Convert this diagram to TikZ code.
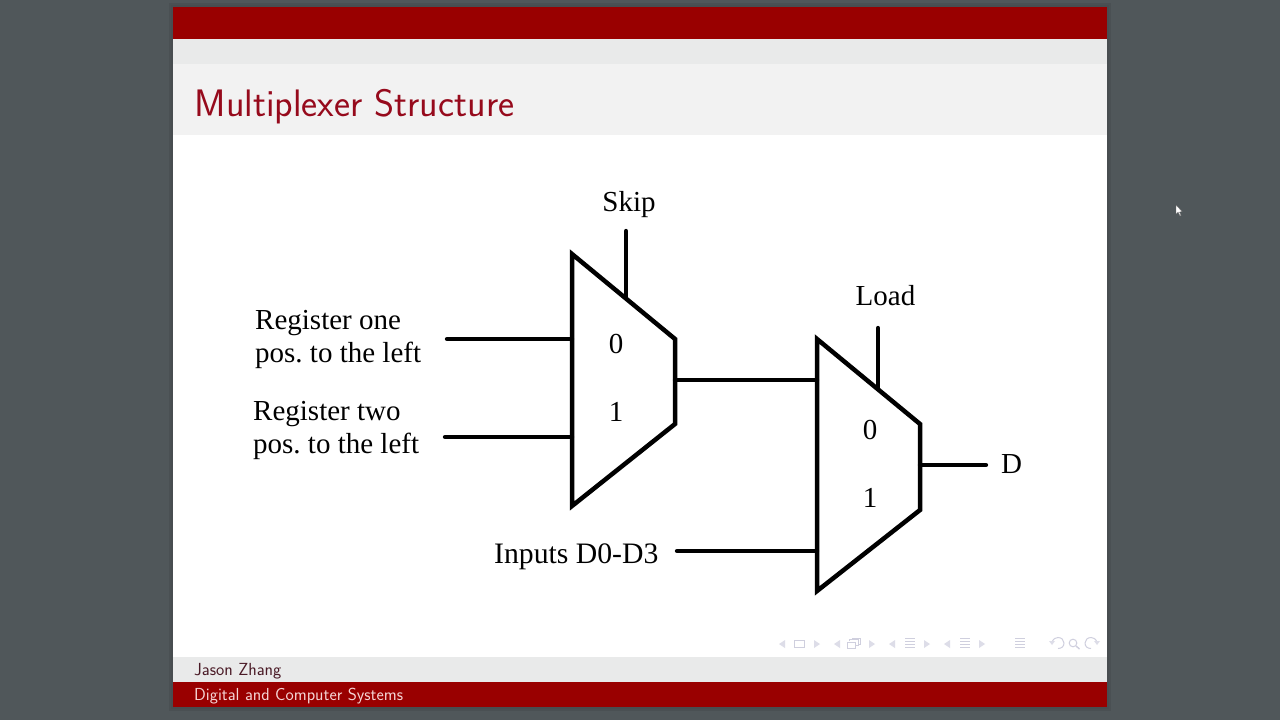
\documentclass[tikz,border=0pt]{standalone}
\usepackage{fontspec}
\newfontfamily\figfont{Liberation Serif}
\usetikzlibrary{calc}
\definecolor{bgdark}{HTML}{50575A}
\definecolor{halo}{HTML}{484D50}
\definecolor{barred}{HTML}{990000}
\definecolor{titlered}{HTML}{960A1C}
\definecolor{bandA}{HTML}{E9EAEA}
\definecolor{bandB}{HTML}{F2F2F2}
\definecolor{navc}{HTML}{CFCFDE}
\definecolor{authorc}{HTML}{4A1A26}
\definecolor{coursec}{HTML}{F5D5D5}
\tikzset{
  wire/.style={line width=4.3pt,line cap=round,black},
  muxbody/.style={line width=4.5pt,line join=miter,black},
  figlabel/.style={inner sep=0pt,font=\figfont\frenchspacing\fontsize{29}{33}\selectfont,text=black,align=left},
  muxnum/.style={inner sep=0pt,font=\figfont\fontsize{29}{33}\selectfont,text=black},
  nav/.style={line width=1pt,navc},
  navtip/.style={fill=navc!70,draw=none},
}
\begin{document}
\begin{tikzpicture}[x=1pt,y=-1pt]
\useasboundingbox (0,0) rectangle (1280,720);
\fill[bgdark] (0,0) rectangle (1280,720);
\fill[bgdark!92!black] (169,3) rectangle (1111,711);
\fill[halo] (171,5) rectangle (1109,709);
% slide
\fill[white] (173,7) rectangle (1107,707);
\fill[barred] (173,7) rectangle (1107,39);
\fill[bandA] (173,39) rectangle (1107,64);
\fill[bandB] (173,64) rectangle (1107,135);
\fill[bandA] (173,657) rectangle (1107,682);
\fill[barred] (173,682) rectangle (1107,707);
\node[anchor=base west,inner sep=0pt,text=titlered,font=\sffamily\fontsize{38.3}{44}\selectfont] (title) at (194.5,116) {Multiplexer Structure};
\node[anchor=base west,inner sep=0pt,text=authorc,font=\sffamily\fontsize{17.5}{20}\selectfont] (author) at (194,675) {Jason Zhang};
\node[anchor=base west,inner sep=0pt,text=coursec,font=\sffamily\fontsize{17.4}{20}\selectfont] (course) at (194,700) {Digital and Computer Systems};
% mux 1
\coordinate (m1a) at (572,254);
\coordinate (m1b) at (675,339);
\coordinate (m1c) at (675,424);
\coordinate (m1d) at (572,506);
\draw[muxbody] (m1a) -- (m1b) -- (m1c) -- (m1d) -- cycle;
% mux 2
\coordinate (m2a) at (817,339);
\coordinate (m2b) at (920,424);
\coordinate (m2c) at (920,510);
\coordinate (m2d) at (817,591);
\draw[muxbody] (m2a) -- (m2b) -- (m2c) -- (m2d) -- cycle;
\node[muxnum] (m1zero) at (616,344) {0};
\node[muxnum] (m1one) at (616,412) {1};
\node[muxnum] (m2zero) at (870,430) {0};
\node[muxnum] (m2one) at (870,498) {1};
% labels
\node[figlabel,anchor=base] (skip) at (629,211) {Skip};
\node[figlabel,anchor=base] (load) at (885.5,305) {Load};
\node[figlabel,anchor=base west] (reg1a) at (255,329) {Register one};
\node[figlabel,anchor=base west] (reg1b) at (255,362) {pos. to the left};
\node[figlabel,anchor=base west] (reg2a) at (253,420) {Register two};
\node[figlabel,anchor=base west] (reg2b) at (253,453) {pos. to the left};
\node[figlabel,anchor=base west,font=\figfont\fontsize{29.7}{33}\selectfont] (inp) at (494,563) {Inputs D0-D3};
\node[figlabel,anchor=base west] (dout) at (1001,473) {D};
% wire ends
\coordinate (skipT) at (626,231);
\coordinate (skipB) at (626,298);
\coordinate (loadT) at (878,328);
\coordinate (loadB) at (878,388);
\coordinate (r1L) at (447,339);
\coordinate (r1R) at (572,339);
\coordinate (r2L) at (445,437);
\coordinate (r2R) at (572,437);
\coordinate (midL) at (675,380);
\coordinate (midR) at (817,380);
\coordinate (inL) at (677,551);
\coordinate (inR) at (817,551);
\coordinate (outL) at (920,465);
\coordinate (outR) at (986,465);
\foreach \p/\q in {skipT/skipB,loadT/loadB,r1L/r1R,r2L/r2R,midL/midR,inL/inR,outL/outR}
  \draw[wire] (\p) -- (\q);
% navigation symbols
\foreach \x in {782,837,892,947}
  \fill[navtip] (\x+3,640) -- (\x+3,648) -- (\x-3,644) -- cycle;
\foreach \x in {817,872,927,982}
  \fill[navtip] (\x-3,640) -- (\x-3,648) -- (\x+3,644) -- cycle;
\draw[nav] (794.5,640.5) rectangle (804,647.5);
\draw[nav] (847,642.5) rectangle (855,648.5);
\draw[nav] (849.5,640.5) -- (849.5,639) -- (858,639) -- (858,645) -- (855,645);
\draw[nav] (852,639) -- (852,638) -- (860,638) -- (860,644) -- (858,644);
\foreach \x/\w in {905/10,960/10,1015/9.5}
  \foreach \y in {638.5,641.5,644.5,647.5}
    \draw[nav] (\x,\y) -- ++(\w,0);
\draw[nav] (1052,642) .. controls (1053.5,638.5) and (1056,637.5) .. (1058,637.5) .. controls (1061.5,637.5) and (1064,640) .. (1064,643) .. controls (1064,646.5) and (1061.5,648.5) .. (1058,648.5);
\fill[navtip] (1049,641) -- (1055,641) -- (1052,645) -- cycle;
\draw[nav] (1073,643) circle[radius=3.8];
\draw[nav,line width=1.4pt] (1076,646) -- (1079.5,649);
\draw[nav] (1097,642) .. controls (1095.5,638.5) and (1093,637.5) .. (1091,637.5) .. controls (1087.5,637.5) and (1085,640) .. (1085,643) .. controls (1085,646.5) and (1087.5,648.5) .. (1091,648.5);
\fill[navtip] (1094,641) -- (1100,641) -- (1097,645) -- cycle;
% cursor
\fill[white,draw=black!60,line width=0.3pt] (1176,205) -- (1176,214) -- (1178,212) -- (1180,216) -- (1181,215.5) -- (1179.5,212) -- (1182,211.5) -- cycle;
\end{tikzpicture}
\end{document}
